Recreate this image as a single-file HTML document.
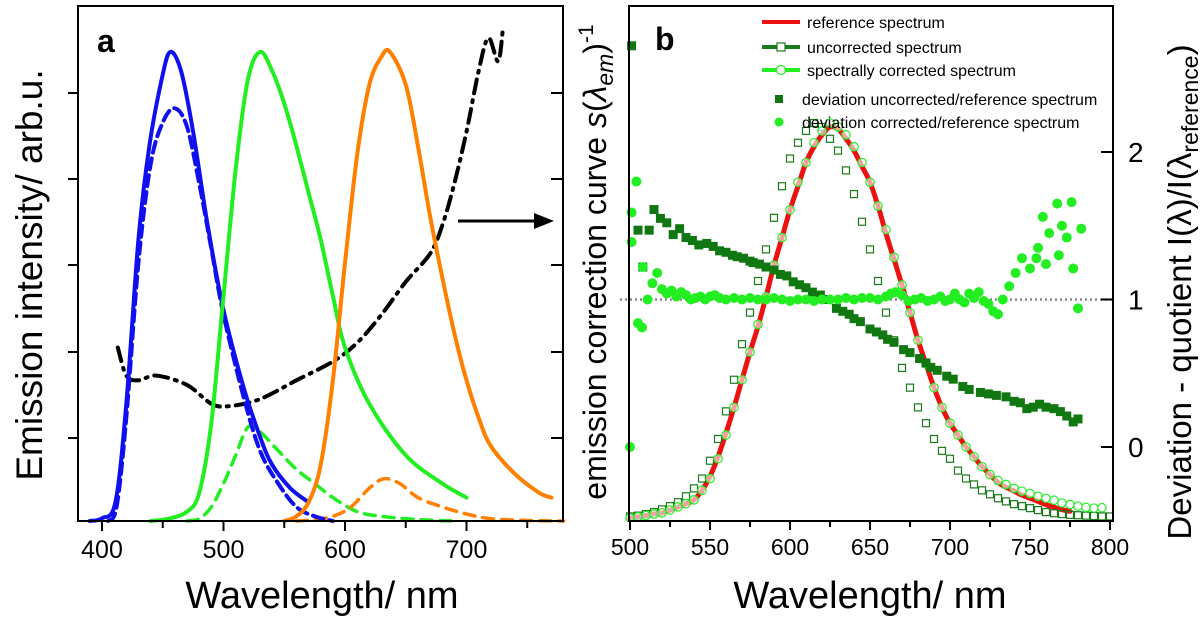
<!DOCTYPE html>
<html><head><meta charset="utf-8"><style>
html,body{margin:0;padding:0;background:#fff;}
svg{display:block;font-family:"Liberation Sans",Arial,sans-serif;}
</style></head><body>
<svg id="fig" width="1200" height="626" viewBox="0 0 1200 626" xmlns="http://www.w3.org/2000/svg">
<g id="pa"></g>
<g id="pb"></g>
</svg>
<script>
// ---------- Panel a data ----------
const blueSolidX=[390,400,411,420,430,439,449,456,465,475,487,500,516,530,540,555,570];
const blueSolidY=[0,0.006,0.04,0.25,0.6,0.8,0.94,1.0,0.96,0.83,0.63,0.45,0.29,0.18,0.12,0.07,0.04];
const blueDashX=[405,412,420,430,440,450,460,470,480,490,500,516,530,545,560,575,590];
const blueDashY=[0,0.03,0.22,0.55,0.76,0.85,0.88,0.84,0.72,0.58,0.44,0.27,0.15,0.08,0.03,0.01,0];
const greenSolidX=[440,455,470,480,490,500,510,520,530,540,550,560,570,580,590,600,620,650,680,700];
const greenSolidY=[0,0.005,0.02,0.06,0.21,0.48,0.75,0.94,1.0,0.96,0.89,0.8,0.7,0.6,0.48,0.37,0.25,0.14,0.08,0.05];
const greenDashX=[470,480,490,500,510,520,530,545,560,575,590,610,630,660,690];
const greenDashY=[0,0.005,0.03,0.08,0.14,0.2,0.19,0.15,0.11,0.08,0.05,0.02,0.01,0.003,0];
const orangeSolidX=[550,560,570,580,590,600,610,620,630,637,650,660,670,680,690,700,710,720,740,760,770];
const orangeSolidY=[0,0.01,0.04,0.12,0.3,0.55,0.78,0.93,0.99,1.0,0.93,0.8,0.65,0.52,0.4,0.3,0.22,0.16,0.1,0.06,0.05];
const orangeDashX=[560,575,590,605,620,632,645,660,680,700,720,750,780];
const orangeDashY=[0,0.003,0.01,0.03,0.07,0.09,0.08,0.05,0.03,0.015,0.005,0.001,0];
const corrCurveX=[413,420,430,445,470,490,505,530,560,590,610,630,650,670,680,690,700,710,718,726,730];
const corrCurveY=[0.37,0.31,0.3,0.31,0.29,0.25,0.245,0.26,0.3,0.34,0.38,0.44,0.51,0.57,0.63,0.72,0.83,0.96,1.03,0.98,1.05];
const aTicks=[400,500,600,700];

// ---------- Panel b data ----------
const refX=[500,505,510,515,520,525,530,535,540,545,550,555,560,565,570,575,580,585,590,595,600,605,610,615,620,625,630,635,640,645,650,655,660,665,670,675,680,685,690,695,700,705,710,715,720,725,730,735,740,745,750,755,760,765,770,775];
const refY=[0,0.003,0.006,0.01,0.013,0.02,0.028,0.036,0.046,0.07,0.105,0.155,0.215,0.28,0.35,0.42,0.485,0.56,0.64,0.71,0.78,0.84,0.9,0.94,0.97,0.99,0.985,0.96,0.93,0.89,0.85,0.79,0.72,0.655,0.59,0.52,0.45,0.39,0.33,0.28,0.24,0.21,0.18,0.155,0.13,0.11,0.09,0.078,0.068,0.058,0.05,0.042,0.034,0.027,0.021,0.017];
const corX=[500,505,510,515,520,525,530,535,540,545,550,555,560,565,570,575,580,585,590,595,600,605,610,615,620,625,630,635,640,645,650,655,660,665,670,675,680,685,690,695,700,705,710,715,720,725,730,735,740,745,750,755,760,765,770,775,780,785,790,795];
const corY=[0,0.003,0.006,0.01,0.013,0.02,0.028,0.036,0.046,0.07,0.1,0.15,0.21,0.28,0.35,0.42,0.49,0.56,0.64,0.71,0.78,0.85,0.9,0.95,0.98,1.0,0.99,0.97,0.94,0.9,0.85,0.79,0.73,0.66,0.59,0.52,0.45,0.39,0.33,0.28,0.24,0.21,0.18,0.155,0.13,0.11,0.095,0.085,0.075,0.068,0.062,0.055,0.05,0.045,0.038,0.034,0.03,0.027,0.025,0.026];
const uncX=[500,505,510,515,520,525,530,535,540,545,550,555,560,565,570,575,580,585,590,595,600,605,610,615,620,625,630,635,640,645,650,655,660,665,670,675,680,685,690,695,700,705,710,715,720,725,730,735,740,745,750,755,760,765,770,775,780,785,790,795,800];
const uncY=[0.004,0.006,0.01,0.015,0.022,0.03,0.04,0.055,0.075,0.1,0.145,0.2,0.27,0.35,0.44,0.52,0.6,0.68,0.76,0.84,0.91,0.95,0.98,1.0,0.99,0.96,0.93,0.88,0.82,0.75,0.68,0.6,0.52,0.45,0.38,0.33,0.28,0.24,0.2,0.17,0.15,0.12,0.1,0.085,0.07,0.06,0.05,0.042,0.035,0.03,0.025,0.02,0.015,0.012,0.01,0.008,0.007,0.006,0.005,0.004,0.004];
const devUncX=[501,505,508,512,515,519,523,527,531,535,539,543,548,552,556,560,564,567,571,575,577,581,585,590,594,598,602,606,610,614,619,623,629,633,637,640,644,650,654,658,661,665,671,675,681,685,688,692,698,702,708,712,719,724,729,735,740,744,748,752,756,760,765,769,773,777,780];
const devUncY=[2.72,1.47,1.22,1.47,1.61,1.55,1.52,1.44,1.48,1.42,1.4,1.37,1.38,1.36,1.33,1.32,1.3,1.29,1.28,1.26,1.25,1.24,1.22,1.2,1.17,1.16,1.12,1.1,1.08,1.05,1.03,1.0,0.94,0.92,0.9,0.87,0.85,0.8,0.78,0.76,0.73,0.71,0.66,0.64,0.6,0.57,0.54,0.52,0.48,0.46,0.41,0.39,0.37,0.36,0.35,0.34,0.31,0.3,0.26,0.27,0.29,0.27,0.26,0.24,0.21,0.17,0.19];
const devCorX=[500,501,501,504,505,507.5,508,511,514,517,520,523,526,529,532,535,538,541,544,547,550,553,556,560,565,570,575,580,585,590,595,600,605,610,615,620,625,630,635,640,645,650,655,660,663,666,670,674,678,682,686,690,694,697,700,703,706,709,712,715,718,721,724,727,730,733,737,741,745,750,754,755,758,760,762,767,768,770,773,776,777,780,782];
const devCorY=[0.0,1.39,1.59,1.8,0.84,0.81,1.22,1.0,1.11,1.18,1.07,1.04,1.06,1.02,1.05,1.03,1.0,1.01,1.02,1.0,1.02,1.03,1.01,1.0,1.01,1.0,1.01,1.0,1.0,1.01,1.0,0.99,1.0,1.0,0.99,1.0,1.0,1.0,1.01,1.0,1.01,1.01,1.0,1.02,1.04,1.05,1.03,0.99,1.0,1.01,0.99,1.0,1.02,0.99,1.0,1.04,1.0,0.98,1.04,1.01,1.05,0.99,0.97,0.92,0.9,1.0,1.09,1.18,1.28,1.21,1.28,1.35,1.56,1.24,1.45,1.65,1.3,1.5,1.42,1.66,1.21,0.94,1.48];
const bTicks=[500,550,600,650,700,750,800];
const rTicks=[0,1,2];

const NS='http://www.w3.org/2000/svg';
function mk(parent,tag,attrs){const e=document.createElementNS(NS,tag);for(const k in attrs)e.setAttribute(k,attrs[k]);parent.appendChild(e);return e;}
const pa=document.getElementById('pa'), pb=document.getElementById('pb');

const xA=nm=>102+(nm-400)*1.215;
const yA=v=>521-v*469;

function smoothPath(pts){
  let d='M'+pts[0][0].toFixed(1)+','+pts[0][1].toFixed(1);
  for(let i=0;i<pts.length-1;i++){
    const p0=pts[i-1]||pts[i],p1=pts[i],p2=pts[i+1],p3=pts[i+2]||p2;
    const c1=[p1[0]+(p2[0]-p0[0])/6,p1[1]+(p2[1]-p0[1])/6];
    const c2=[p2[0]-(p3[0]-p1[0])/6,p2[1]-(p3[1]-p1[1])/6];
    d+=' C'+c1[0].toFixed(1)+','+c1[1].toFixed(1)+' '+c2[0].toFixed(1)+','+c2[1].toFixed(1)+' '+p2[0].toFixed(1)+','+p2[1].toFixed(1);
  }
  return d;
}
function line(g,xs,ys,fx,fy,color,w,dash,name){
  const pts=xs.map((x,i)=>[fx(x),fy(ys[i])]);
  const p=mk(g,'path',{d:smoothPath(pts),fill:'none',stroke:color,'stroke-width':w,'stroke-linejoin':'round','stroke-linecap':'round'});
  if(dash)p.setAttribute('stroke-dasharray',dash);
  
  
  return p;
}
line(pa,corrCurveX,corrCurveY,xA,yA,'#000',4,'14,7,2,7','correction-curve');
line(pa,greenDashX,greenDashY,xA,yA,'#22ee22',3.5,'11,8','green-uncorrected');
line(pa,orangeDashX,orangeDashY,xA,yA,'#ff8000',3.5,'11,8','orange-uncorrected');
line(pa,blueDashX,blueDashY,xA,yA,'#1010ee',4,'11,6','blue-uncorrected');
line(pa,blueSolidX,blueSolidY,xA,yA,'#1010ee',4,null,'blue-corrected');
line(pa,greenSolidX,greenSolidY,xA,yA,'#22ee22',4,null,'green-corrected');
line(pa,orangeSolidX,orangeSolidY,xA,yA,'#ff8000',4,null,'orange-corrected');

let fa=mk(pa,'rect',{x:78,y:6,width:485,height:515,fill:'none',stroke:'#000','stroke-width':2});


[93,179,265,352,438].forEach(y=>{
  mk(pa,'line',{x1:68,y1:y,x2:78,y2:y,stroke:'#000','stroke-width':2});
  mk(pa,'line',{x1:551,y1:y,x2:563,y2:y,stroke:'#000','stroke-width':2});
});
for(let nm=400;nm<=750;nm+=50){
  mk(pa,'line',{x1:xA(nm),y1:521,x2:xA(nm),y2:nm%100===0?531:528,stroke:'#000','stroke-width':2});
}
aTicks.forEach(t=>{
  const e=mk(pa,'text',{x:xA(t),y:558,'font-size':25,'text-anchor':'middle'});e.textContent=t;
  
  
});
mk(pa,'line',{x1:458,y1:221,x2:538,y2:221,stroke:'#000','stroke-width':3});
let ar=mk(pa,'polygon',{points:'534,213 554,221 534,229',fill:'#000'});


let la=mk(pa,'text',{x:97,y:52,'font-size':32,'font-weight':'bold'});la.textContent='a';


let xla=mk(pa,'text',{x:322,y:608,'font-size':38,'text-anchor':'middle'});xla.textContent='Wavelength/ nm';


let yla=mk(pa,'text',{x:0,y:0,'font-size':37,'text-anchor':'middle',transform:'translate(42,275) rotate(-90)'});yla.textContent='Emission intensity/ arb.u.';


let yra=mk(pa,'text',{x:0,y:0,'font-size':32,'text-anchor':'middle',transform:'translate(606,262) rotate(-90)'});
yra.innerHTML='emission correction curve <tspan font-style="italic">s</tspan>(<tspan font-style="italic">λ</tspan><tspan font-style="italic" font-size="23" dy="7">em</tspan><tspan dy="-7">)</tspan><tspan font-size="21" dy="-13">-1</tspan>';



// ---------- panel b ----------
const xB=nm=>630+(nm-500)*1.6;
const yS=v=>518-v*395;
const yR=v=>447-v*147.5;

let clip=mk(pb,'clipPath',{id:'cb'});mk(clip,'rect',{x:620,y:6,width:494,height:516});
const gb=mk(pb,'g',{'clip-path':'url(#cb)'});


let dl=mk(gb,'line',{x1:620,y1:yR(1),x2:1112,y2:yR(1),stroke:'#888','stroke-width':2.5,'stroke-dasharray':'2,3'});


line(gb,refX,refY,xB,yS,'#ee1111',5,null,'reference-spectrum');
uncX.forEach((x,i)=>{
  const r=mk(gb,'rect',{x:xB(x)-3.5,y:yS(uncY[i])-3.5,width:7,height:7,fill:'none',stroke:'#1a7a1a','stroke-width':1.2});
  
  
});
corX.forEach((x,i)=>{
  const c=mk(gb,'circle',{cx:xB(x),cy:yS(corY[i]),r:4.2,fill:'#fff','fill-opacity':0.6,stroke:'#22ee22','stroke-width':1.2});
  
  
});
devUncX.forEach((x,i)=>{
  const r=mk(gb,'rect',{x:xB(x)-4.5,y:yR(devUncY[i])-4.5,width:9,height:9,fill:'#117711'});
  
  
});
devCorX.forEach((x,i)=>{
  const c=mk(gb,'circle',{cx:xB(x),cy:yR(devCorY[i]),r:5,fill:'#22ee22'});
  
  
});
let fb=mk(pb,'rect',{x:629,y:6,width:484,height:515,fill:'none',stroke:'#000','stroke-width':2});


for(let nm=500;nm<=800;nm+=25){
  mk(pb,'line',{x1:xB(nm),y1:521,x2:xB(nm),y2:nm%50===0?530:527,stroke:'#000','stroke-width':2});
}
bTicks.forEach(t=>{
  const e=mk(pb,'text',{x:xB(t),y:555,'font-size':23,'text-anchor':'middle'});e.textContent=t;
  
  
});
rTicks.forEach(t=>{
  mk(pb,'line',{x1:1101,y1:yR(t),x2:1113,y2:yR(t),stroke:'#000','stroke-width':2});
  const e=mk(pb,'text',{x:1128,y:yR(t)+10,'font-size':28,'text-anchor':'start'});e.textContent=t;
  
  
});
let lb=mk(pb,'text',{x:655,y:50,'font-size':32,'font-weight':'bold'});lb.textContent='b';


let xlb=mk(pb,'text',{x:870,y:608,'font-size':38,'text-anchor':'middle'});xlb.textContent='Wavelength/ nm';


let ylb=mk(pb,'text',{x:0,y:0,'font-size':33,'text-anchor':'middle',transform:'translate(1191,292) rotate(-90)'});
ylb.innerHTML='Deviation - quotient I(λ)/I(λ<tspan font-size="23" dy="7">reference</tspan><tspan dy="-7">)</tspan>';



const leg=mk(pb,'g',{});


const legText=['reference spectrum','uncorrected spectrum','spectrally corrected spectrum','deviation uncorrected/reference spectrum','deviation corrected/reference spectrum'];
const legY=[22,47,70,99,122];
mk(leg,'line',{x1:762,y1:22,x2:800,y2:22,stroke:'#ee1111','stroke-width':4});
mk(leg,'line',{x1:762,y1:47,x2:800,y2:47,stroke:'#1a7a1a','stroke-width':4});
mk(leg,'rect',{x:777,y:43,width:8,height:8,fill:'#fff',stroke:'#1a7a1a','stroke-width':1.2});
mk(leg,'line',{x1:762,y1:70,x2:800,y2:70,stroke:'#22ee22','stroke-width':4});
mk(leg,'circle',{cx:781,cy:70,r:4.5,fill:'#fff',stroke:'#22ee22','stroke-width':1.2});
mk(leg,'rect',{x:775,y:95,width:8,height:8,fill:'#117711'});
mk(leg,'circle',{cx:779,cy:122,r:4.5,fill:'#22ee22'});
legText.forEach((t,i)=>{
  const e=mk(leg,'text',{x:i<3?807:802,y:legY[i]+6,'font-size':16});e.textContent=t;
  
  
});
</script>
</body></html>
